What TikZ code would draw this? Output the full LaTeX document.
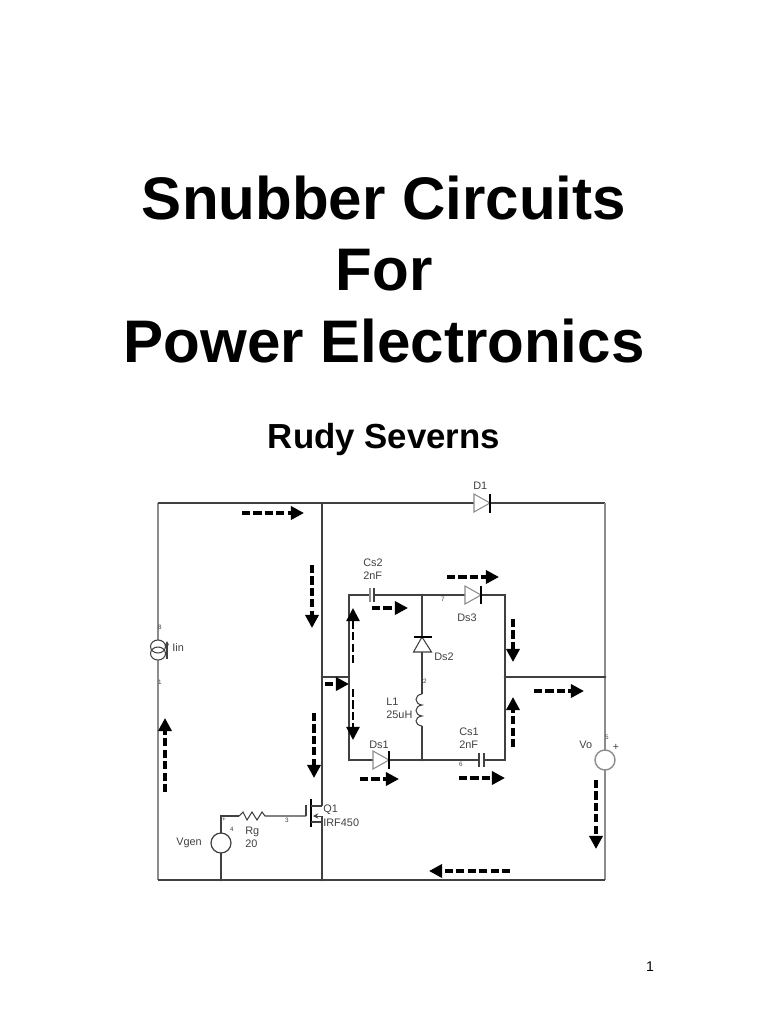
\documentclass[tikz,border=0pt]{standalone}
\usepackage{fontspec}
\setmainfont{Liberation Sans}
\usetikzlibrary{arrows.meta}
\definecolor{wire}{gray}{0.25}
\definecolor{wirelight}{gray}{0.55}
\definecolor{labeltext}{gray}{0.25}
\tikzset{
    wireline/.style={draw=wire, line width=0.6pt},
    flow/.style={black, line width=2pt, dash pattern=on 4.6pt off 1.9pt, -{Triangle[length=7.5pt,width=7.5pt]}},
    flowthin/.style={flow, line width=1.4pt},
    partlabel/.style={text=labeltext, font=\fontsize{6.2}{7.4}\selectfont, align=left, inner sep=0pt},
    pinlabel/.style={text=labeltext, font=\fontsize{3.6}{4}\selectfont, inner sep=0pt},
    titleline/.style={font=\fontsize{34.2}{38}\selectfont\bfseries, inner sep=0pt}
}

\begin{document}
\begin{tikzpicture}[x=0.02cm, y=-0.02cm]
    \useasboundingbox (0,0) rectangle (768,1024);
    % title
    \node[titleline] (titleA) at (384,198) {Snubber Circuits};
    \node[titleline] (titleB) at (384,270) {For};
    \node[titleline] (titleC) at (384,341) {Power Electronics};
    \node[font=\fontsize{19.8}{22}\selectfont\bfseries, inner sep=0pt] (author) at (384,440) {Rudy Severns};
    \node[font=\fontsize{8}{9}\selectfont, inner sep=0pt] (pagenum) at (650,967) {1};
    % junctions
    \coordinate (TL) at (158,503);
    \coordinate (TM) at (322,503);
    \coordinate (TR) at (605,503);
    \coordinate (BL) at (158,880);
    \coordinate (BM) at (322,880);
    \coordinate (BG) at (221,880);
    \coordinate (BR) at (605,880);
    \coordinate (MM) at (322,677);
    \coordinate (ML) at (349,677);
    \coordinate (MR) at (505,677);
    \coordinate (MO) at (605,677);
    \coordinate (BoxTL) at (349,595);
    \coordinate (BoxTM) at (422,595);
    \coordinate (BoxTR) at (505,595);
    \coordinate (BoxBL) at (349,760);
    \coordinate (BoxBM) at (422,760);
    \coordinate (BoxBR) at (505,760);
    % outer wires
    \draw[draw=wirelight, line width=0.9pt] (BL) -- (158,660);
    \draw[draw=wirelight, line width=0.9pt] (158,640) -- (TL);
    \draw[wireline] (TL) -- (474,503);
    \draw[wireline] (490,503) -- (TR);
    \draw[draw=wirelight, line width=0.8pt] (TR) -- (605,750);
    \draw[draw=wirelight, line width=0.8pt] (605,770) -- (BR);
    \draw[wireline] (BL) -- (BR);
    \draw[wireline] (TM) -- (322,806);
    \draw[wireline] (322,822) -- (BM);
    \draw[wireline] (MM) -- (ML);
    \draw[wireline] (MR) -- (MO);
    % snubber box
    \draw[wireline] (ML) -- (BoxTL) -- (370,595);
    \draw[wireline] (374,595) -- (465,595);
    \draw[wireline] (481,595) -- (BoxTR) -- (BoxBR) -- (484,760);
    \draw[wireline] (479,760) -- (373,760);
    \draw[wireline] (389,760) -- (BoxBL) -- (ML);
    \draw[wireline] (BoxTM) -- (422,637);
    \draw[wireline] (422,652) -- (422,694);
    \draw[wireline] (422,726) -- (BoxBM);
    % dots
    \foreach \p in {MM,ML,MR,MO,BoxTM,BoxBM,BG,BM}
        \fill[wire] (\p) circle (1.3);
    % diodes
    \draw[wirelight, fill=white, line width=0.6pt] (474,494) -- (490,503) -- (474,512) -- cycle;
    \draw[black, line width=1.2pt] (490,494) -- (490,513);
    \draw[wirelight, fill=white, line width=0.6pt] (465,586) -- (481,595) -- (465,604) -- cycle;
    \draw[black, line width=1.2pt] (481,586) -- (481,604);
    \draw[wirelight, fill=white, line width=0.6pt] (373,751) -- (389,760) -- (373,769) -- cycle;
    \draw[black, line width=1.6pt] (389,751) -- (389,769);
    \draw[wire, fill=white, line width=0.6pt] (413.5,652) -- (422,637) -- (431.5,652) -- cycle;
    \draw[black, line width=1pt] (413.5,637) -- (431.5,637);
    % capacitors
    \draw[wirelight, line width=0.7pt] (370,588) -- (370,602);
    \draw[wire, line width=0.7pt] (374,588) -- (374,602);
    \draw[wire, line width=0.7pt] (479,753) -- (479,767);
    \draw[wire, line width=0.7pt] (484,753) -- (484,767);
    % inductor
    \draw[wireline] (422,694) .. controls (414,695) and (414,704) .. (422,705)
        .. controls (414,706) and (414,715) .. (422,716)
        .. controls (414,717) and (414,725) .. (422,726);
    % sources
    \draw[wirelight, line width=0.8pt] (605,760) circle (10);
    \draw[wire, line width=0.7pt] (221,843) circle (10);
    \draw[wire, line width=0.6pt] (158,646.5) ellipse (7.5 and 6.5);
    \draw[wire, line width=0.6pt] (158,653.5) ellipse (7.5 and 6.5);
    \draw[wire, line width=0.6pt, -{Stealth[length=2.5pt,width=2.4pt]}] (167,659) -- (167,641);
    % gate drive
    \draw[wireline] (BG) -- (221,853);
    \draw[wireline] (221,833) -- (221,816) -- (239,816);
    \draw[wireline] (239,816) -- (243,812) -- (247,820) -- (252,812) -- (257,820) -- (262,812) -- (265,816) -- (306,816);
    % mosfet
    \draw[wire, line width=0.8pt] (306,816) -- (306,805);
    \draw[black, line width=1.6pt] (311,799) -- (311,827);
    \draw[wireline] (311,806) -- (322,806);
    \draw[wireline] (311,822) -- (322,822) -- (322,816);
    \draw[wire, line width=0.5pt, -{Stealth[length=3pt,width=3pt]}] (322,816) -- (313,816);
    % labels
    \node[partlabel, anchor=west] (lblD1) at (473,486) {D1};
    \node[partlabel, anchor=west] (lblCs2) at (363,569) {Cs2\\2nF};
    \node[partlabel, anchor=west] (lblDs3) at (457,618) {Ds3};
    \node[partlabel, anchor=west] (lblDs2) at (434,657) {Ds2};
    \node[partlabel, anchor=west] (lblL1) at (386,708) {L1\\25uH};
    \node[partlabel, anchor=west] (lblCs1) at (459,738) {Cs1\\2nF};
    \node[partlabel, anchor=west] (lblDs1) at (369,745) {Ds1};
    \node[partlabel, anchor=west] (lblVo) at (579,745) {Vo};
    \node[partlabel, anchor=west] (lblIin) at (172,648) {Iin};
    \node[partlabel, anchor=west] (lblVgen) at (176,843) {Vgen};
    \node[partlabel, anchor=west] (lblRg) at (245,837) {Rg\\20};
    \node[partlabel, anchor=west] (lblQ1) at (323,810) {Q1};
    \node[partlabel, anchor=west] (lblIRF) at (323,823) {IRF450};
    % pin numbers
    \node[pinlabel] (pinA) at (160,627) {8};
    \node[pinlabel] (pinB) at (160,682) {1};
    \node[pinlabel] (pinC) at (443,599) {7};
    \node[pinlabel] (pinD) at (425,681) {2};
    \node[pinlabel] (pinE) at (461,764) {6};
    \node[pinlabel] (pinF) at (607,737) {5};
    \node[pinlabel] (pinG) at (287,820) {3};
    \node[pinlabel] (pinH) at (232,829) {4};
    \node[pinlabel] (plusA) at (224,820) {+};
    \node[pinlabel, font=\fontsize{6}{6}\selectfont] (plusB) at (616,747) {+};
    % current flow
    \draw[flow] (242,513) -- (304,513);
    \draw[flow] (312,565) -- (312,628);
    \draw[flow] (165,792) -- (165,718);
    \draw[flow] (314,713) -- (314,778);
    \draw[flowthin] (353,663) -- (353,608);
    \draw[flow] (325,684) -- (349,684);
    \draw[flowthin] (353,689) -- (353,740);
    \draw[flow] (372,608) -- (408,608);
    \draw[flow] (447,577) -- (499,577);
    \draw[flow] (513,619) -- (513,662);
    \draw[flow] (534,691) -- (584,691);
    \draw[flow] (513,747) -- (513,697);
    \draw[flow] (360,779) -- (399,779);
    \draw[flow] (459,778) -- (505,778);
    \draw[flow] (596,780) -- (596,849);
    \draw[flow] (510,871) -- (429,871);
\end{tikzpicture}
\end{document}
